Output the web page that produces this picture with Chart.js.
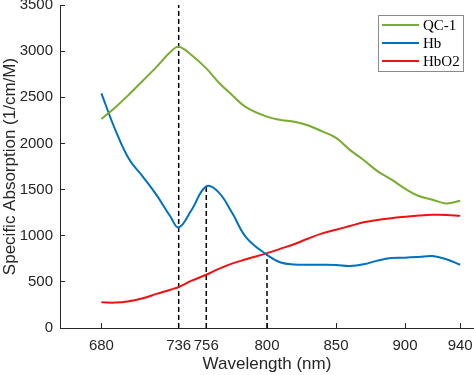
<!DOCTYPE html>
<html>
<head>
<meta charset="utf-8">
<script src="https://cdn.jsdelivr.net/npm/chart.js@4/dist/chart.umd.min.js"></script>
<style>
  html, body { margin: 0; padding: 0; background: #fff; }
  #wrap { width: 474px; height: 375px; }
</style>
</head>
<body>
<div id="wrap"><canvas id="absorption-chart"></canvas></div>
<script>
// wavelength grid (nm) shared by the three spectra
const wavelengths = [680, 690, 700, 710, 720, 730, 736, 745, 756, 765, 775, 785, 800, 810, 820, 830, 840, 850, 860, 870, 880, 890, 900, 910, 920, 930, 940];

const qc1 = [2265, 2390, 2530, 2680, 2830, 2990, 3047, 2960, 2813, 2660, 2520, 2390, 2290, 2255, 2235, 2195, 2130, 2060, 1930, 1820, 1700, 1610, 1510, 1430, 1390, 1350, 1378];
const hb = [2542, 2150, 1830, 1640, 1440, 1208, 1089, 1270, 1535, 1470, 1240, 980, 793, 710, 688, 685, 685, 683, 672, 690, 730, 758, 762, 770, 780, 745, 685];
const hbo2 = [278, 275, 290, 322, 370, 415, 444, 510, 577, 640, 700, 745, 811, 860, 910, 970, 1025, 1065, 1105, 1145, 1170, 1190, 1205, 1218, 1226, 1225, 1215];

// dashed markers: wavelength and where each dashed line stops
const markerX = [736, 756, 800];
const markerTop = [3500, 1530, 790];

const xTicks = [680, 736, 756, 800, 850, 900, 940];
const yTicks = [0, 500, 1000, 1500, 2000, 2500, 3000, 3500];

const textColor = '#262626';
const sans = '"Liberation Sans", Arial, sans-serif';

function series(values) {
  return wavelengths.map((w, i) => ({ x: w, y: values[i] }));
}

// drop the label overflow padding so the plot fills the canvas like the original
function noPad(axis) {
  axis.paddingTop = 0;
  axis.paddingBottom = 0;
  axis.paddingLeft = 0;
  axis.paddingRight = 0;
}

const datasets = [
  { label: 'QC-1', data: series(qc1), borderColor: '#77AC30' },
  { label: 'Hb', data: series(hb), borderColor: '#0072BD' },
  { label: 'HbO2', data: series(hbo2), borderColor: '#EE1111' },
].map((d) => ({ ...d, borderWidth: 2, pointRadius: 0, tension: 0.4, fill: false }));

markerX.forEach((x, i) => {
  datasets.push({
    label: 'marker',
    data: [{ x: x, y: 0 }, { x: x, y: markerTop[i] }],
    borderColor: '#000',
    borderWidth: 1.5,
    borderDash: [5, 3],
    pointRadius: 0,
    tension: 0,
    isMarker: true,
  });
});

// legend drawn inside the plot area with a framed box
const boxLegend = {
  id: 'boxLegend',
  afterDatasetsDraw(chart) {
    const ctx = chart.ctx;
    const items = chart.data.datasets.filter((d) => !d.isMarker);
    const left = 378, top = 15, w = 85, h = 56;
    ctx.save();
    ctx.fillStyle = '#fff';
    ctx.fillRect(left, top, w, h);
    ctx.strokeStyle = '#8a8a8a';
    ctx.lineWidth = 1;
    ctx.strokeRect(left + 0.5, top + 0.5, w, h);
    ctx.font = '15px "Liberation Serif", "Times New Roman", serif';
    ctx.textBaseline = 'middle';
    ctx.fillStyle = '#000';
    items.forEach((d, i) => {
      const y = top + 10 + i * 18;
      ctx.strokeStyle = d.borderColor;
      ctx.lineWidth = 2;
      ctx.beginPath();
      ctx.moveTo(382, y);
      ctx.lineTo(419, y);
      ctx.stroke();
      ctx.fillText(d.label, 423, y + 1);
    });
    ctx.restore();
  },
};

new Chart(document.getElementById('absorption-chart'), {
  type: 'line',
  data: { datasets: datasets },
  plugins: [boxLegend],
  options: {
    responsive: true,
    maintainAspectRatio: false,
    animation: false,
    layout: { autoPadding: false, padding: { top: 5, right: 0, bottom: 0, left: 0 } },
    plugins: { legend: { display: false }, tooltip: { enabled: false } },
    scales: {
      x: {
        type: 'linear',
        min: 650,
        max: 950,
        afterBuildTicks: (axis) => { axis.ticks = xTicks.map((v) => ({ value: v })); },
        afterFit: (axis) => { axis.height = 47; noPad(axis); },
        grid: { drawOnChartArea: false, tickLength: -5, color: textColor },
        border: { color: textColor, width: 1 },
        ticks: { autoSkip: false, maxRotation: 0, padding: 14, color: textColor, font: { family: sans, size: 15 } },
        title: { display: true, text: 'Wavelength (nm)', color: textColor, padding: { top: 4, bottom: 0 }, font: { family: sans, size: 17 } },
      },
      y: {
        min: 0,
        max: 3500,
        afterBuildTicks: (axis) => { axis.ticks = yTicks.map((v) => ({ value: v })); },
        afterFit: (axis) => { axis.width = 60; noPad(axis); },
        grid: { drawOnChartArea: false, tickLength: -5, color: textColor },
        border: { color: textColor, width: 1 },
        ticks: { padding: 12, color: textColor, font: { family: sans, size: 15 }, callback: (v) => String(v) },
        title: { display: true, text: 'Specific Absorption (1/cm/M)', color: textColor, padding: { top: 0, bottom: 0 }, font: { family: sans, size: 17 } },
      },
    },
  },
});
</script>
</body>
</html>
